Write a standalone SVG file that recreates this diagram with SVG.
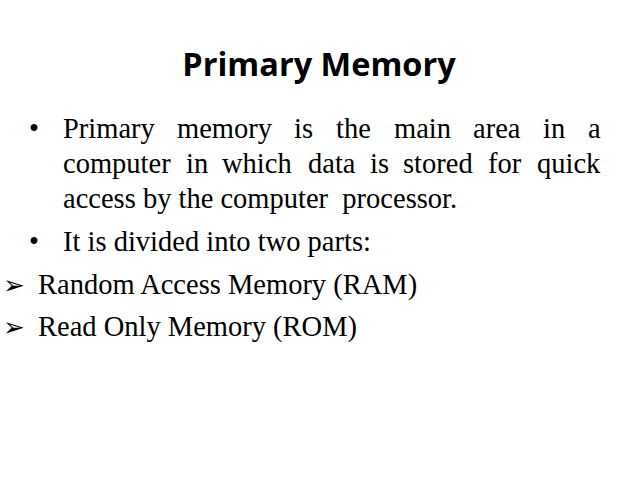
<svg xmlns="http://www.w3.org/2000/svg" width="638" height="478" viewBox="0 0 638 478">
<style>
.t{font-family:"Liberation Serif",serif;font-size:28.5px;fill:#000}
.a{font-family:"DejaVu Sans",sans-serif;font-size:26px;fill:#000}
</style>
<rect width="638" height="478" fill="#fff"/>
<g id="title"><text x="319" y="76" text-anchor="middle" font-family="Open Sans, Liberation Sans, sans-serif" font-weight="bold" font-size="32.5">Primary Memory</text></g>
<g id="body">
<text class="t" x="29" y="138">•</text>
<text class="t" y="138"><tspan x="63">Primary</tspan><tspan x="177">memory</tspan><tspan x="294">is</tspan><tspan x="336">the</tspan><tspan x="394">main</tspan><tspan x="473">area</tspan><tspan x="543">in</tspan><tspan x="588">a</tspan></text>
<text class="t" y="173"><tspan x="63">computer</tspan><tspan x="186">in</tspan><tspan x="222">which</tspan><tspan x="308">data</tspan><tspan x="370">is</tspan><tspan x="403">stored</tspan><tspan x="488">for</tspan><tspan x="537">quick</tspan></text>
<text class="t" x="63" y="208" xml:space="preserve">access by the computer  processor.</text>
<text class="t" x="29" y="251">•</text>
<text class="t" x="63" y="251">It is divided into two parts:</text>
<text class="a" x="3" y="294">➢</text>
<text class="t" x="38" y="294">Random Access Memory (RAM)</text>
<text class="a" x="3" y="336">➢</text>
<text class="t" x="38" y="336">Read Only Memory (ROM)</text>
</g>
</svg>
